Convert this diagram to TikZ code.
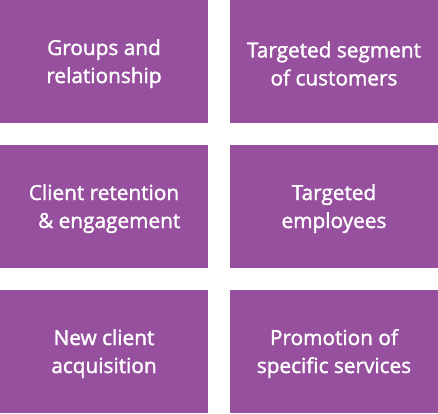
\documentclass[tikz,border=0pt]{standalone}
\usepackage{fontspec}
\setmainfont{Open Sans}[BoldFeatures={FakeBold=1.6}, BoldFont={Open Sans}]
\usetikzlibrary{positioning}
\definecolor{tilepurple}{RGB}{150,80,158}

\begin{document}
\begin{tikzpicture}[
        x=1pt, y=1pt,
        node distance=22pt,
        tile/.style={rectangle, fill=tilepurple, text=white, minimum width=208pt, minimum height=123pt, inner sep=0pt, outer sep=0pt, align=center, text height=48pt, font=\fontsize{20.8}{28}\selectfont\bfseries}
    ]
        \useasboundingbox (0,0) rectangle (438,-413);
        \node[tile, anchor=north west] (groups) at (0,0) {Groups and\\relationship};
        \node[tile, right=of groups] (segment) {Targeted segment\\of customers};
        \node[tile, below=of groups] (retention) {Client retention\\\hspace*{0.5em}\& engagement};
        \node[tile, below=of segment] (employees) {Targeted\\employees};
        \node[tile, below=of retention] (acquisition) {New client\\acquisition};
        \node[tile, below=of employees] (promotion) {Promotion of\\specific services};
    \end{tikzpicture}
\end{document}
